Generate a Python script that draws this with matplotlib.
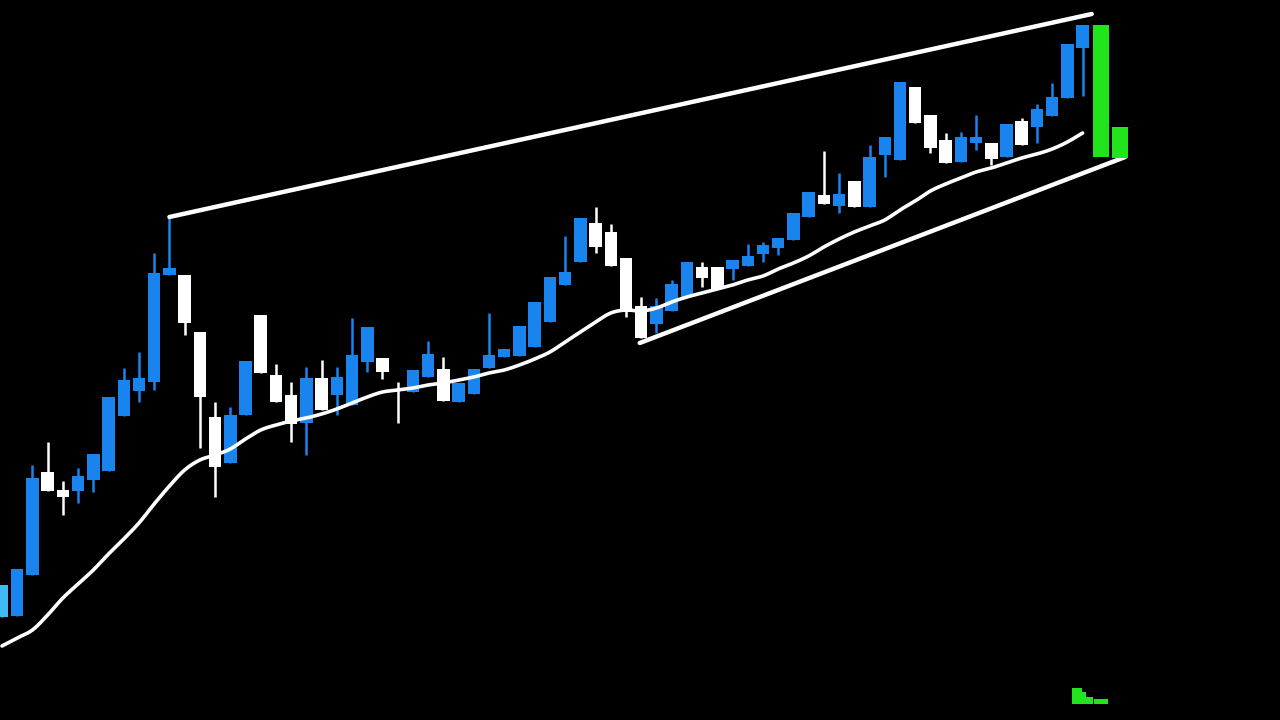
import matplotlib
matplotlib.use("Agg")
import matplotlib.pyplot as plt
import numpy as np

# ---- data (price units, arbitrary scale) ----
opens = [103, 104, 145, 248, 230, 229, 240, 249, 304, 329, 338, 445, 445, 388, 303, 257, 305, 405,
         345, 325, 297, 342, 325, 315, 358, 362, 331, 328, 343, 351, 318, 326, 352, 363, 364, 373,
         398, 435, 458, 497, 488, 462, 414, 396, 409, 423, 453, 453, 451, 454, 466, 472, 480, 503,
         525, 514, 539, 513, 565, 560, 633, 605, 580, 558, 577, 577, 563, 599, 593, 604, 622, 672]
highs = [135, 151, 255, 278, 239, 252, 266, 323, 352, 368, 467, 503, 445, 388, 318, 313, 359, 405,
         356, 338, 353, 360, 353, 402, 393, 362, 338, 350, 379, 363, 337, 351, 407, 371, 394, 418,
         443, 484, 502, 513, 496, 462, 423, 422, 440, 458, 458, 453, 460, 476, 478, 482, 507, 528,
         569, 547, 539, 575, 583, 638, 633, 605, 587, 588, 605, 577, 596, 602, 616, 637, 676, 695]
lows = [103, 104, 145, 229, 205, 217, 228, 249, 304, 318, 330, 445, 385, 272, 223, 257, 305, 347,
        318, 278, 265, 310, 305, 315, 348, 341, 297, 328, 343, 319, 318, 326, 352, 363, 364, 373,
        398, 435, 458, 467, 454, 403, 382, 387, 409, 423, 433, 431, 440, 454, 458, 465, 480, 503,
        516, 507, 513, 513, 543, 560, 597, 567, 557, 558, 570, 555, 563, 575, 577, 604, 622, 624]
closes = [135, 151, 242, 229, 223, 244, 266, 323, 340, 342, 447, 452, 397, 323, 253, 305, 359, 347,
          318, 296, 342, 310, 343, 365, 393, 348, 329, 350, 366, 319, 337, 351, 365, 371, 394, 418,
          443, 448, 502, 473, 454, 408, 382, 414, 436, 458, 442, 431, 460, 464, 475, 482, 507, 528,
          516, 526, 513, 563, 583, 638, 597, 572, 557, 583, 583, 561, 596, 575, 611, 623, 676, 695]
ma_line = [74, 82, 90, 105, 122, 136, 150, 166, 181, 197, 216, 234, 250, 260, 265, 271, 281, 290,
           295, 299, 302, 306, 311, 317, 323, 328, 330, 332, 335, 337, 340, 343, 347, 350, 355, 361,
           368, 378, 388, 398, 407, 410, 409, 412, 418, 423, 427, 431, 435, 440, 444, 451, 457, 464,
           473, 481, 488, 494, 500, 510, 519, 529, 536, 542, 548, 552, 557, 562, 566, 571, 578, 587]

upper_trend_x = [11.0, 71.6]
upper_trend_y = [503, 706]
lower_trend_x = [41.9, 73.8]
lower_trend_y = [377, 563]

green_pos = [72.2, 73.45]
green_top = [695, 593]
green_bottom = [563, 562]

mini_pos = [70.63, 71.1, 71.45, 72.2]
mini_top = [32, 28, 23, 21]
mini_base = 16

# ---- drawing ----
BLUE = "#1A84EE"
LIGHT_BLUE = "#41B9F2"
WHITE = "#FFFFFF"
GREEN = "#22E41C"


def smooth_curve(xs, ys, n=12):
    """Catmull-Rom spline through the given points (for drawing only)."""
    xs = np.asarray(xs, float); ys = np.asarray(ys, float)
    px = np.concatenate([[2 * xs[0] - xs[1]], xs, [2 * xs[-1] - xs[-2]]])
    py = np.concatenate([[2 * ys[0] - ys[1]], ys, [2 * ys[-1] - ys[-2]]])
    out_x, out_y = [], []
    t = np.linspace(0, 1, n, endpoint=False)
    for i in range(1, len(px) - 2):
        for arr, out in ((px, out_x), (py, out_y)):
            p0, p1, p2, p3 = arr[i - 1], arr[i], arr[i + 1], arr[i + 2]
            out.extend(0.5 * ((2 * p1) + (-p0 + p2) * t + (2 * p0 - 5 * p1 + 4 * p2 - p3) * t ** 2
                              + (-p0 + 3 * p1 - 3 * p2 + p3) * t ** 3))
    out_x.append(xs[-1]); out_y.append(ys[-1])
    return np.array(out_x), np.array(out_y)


fig = plt.figure(figsize=(12.8, 7.2), dpi=100, facecolor="black")
ax = fig.add_axes([0, 0, 1, 1])
ax.set_facecolor("black")

idx = np.arange(len(opens))
o = np.array(opens); c = np.array(closes); h = np.array(highs); l = np.array(lows)
up = c >= o
colors = [BLUE if u else WHITE for u in up]
colors[0] = LIGHT_BLUE

ax.vlines(idx, l, h, colors=colors, linewidth=1.8, zorder=2)
body_h = np.maximum(np.abs(c - o), 1.5)
ax.bar(idx, body_h, bottom=np.minimum(o, c), width=0.82, color=colors, edgecolor="none", zorder=3)

sx, sy = smooth_curve(idx, ma_line)
ax.plot(sx, sy, color=WHITE, linewidth=2.6, solid_capstyle="round", zorder=4)
ax.plot(upper_trend_x, upper_trend_y, color=WHITE, linewidth=3.2, solid_capstyle="round", zorder=4)
ax.plot(lower_trend_x, lower_trend_y, color=WHITE, linewidth=3.2, solid_capstyle="round", zorder=4)

gt = np.array(green_top); gb = np.array(green_bottom)
ax.bar(green_pos, gt - gb, bottom=gb, width=1.05, color=GREEN, edgecolor="none", zorder=5)

mt = np.array(mini_top)
ax.bar(mini_pos, mt - mini_base, bottom=mini_base, width=[0.67, 0.3, 0.46, 0.95],
       color=GREEN, edgecolor="none", zorder=5)

ax.set_xlim(-0.131, 83.97)
ax.set_ylim(0, 720)
ax.axis("off")

fig.savefig("out.png", dpi=100, facecolor="black")
